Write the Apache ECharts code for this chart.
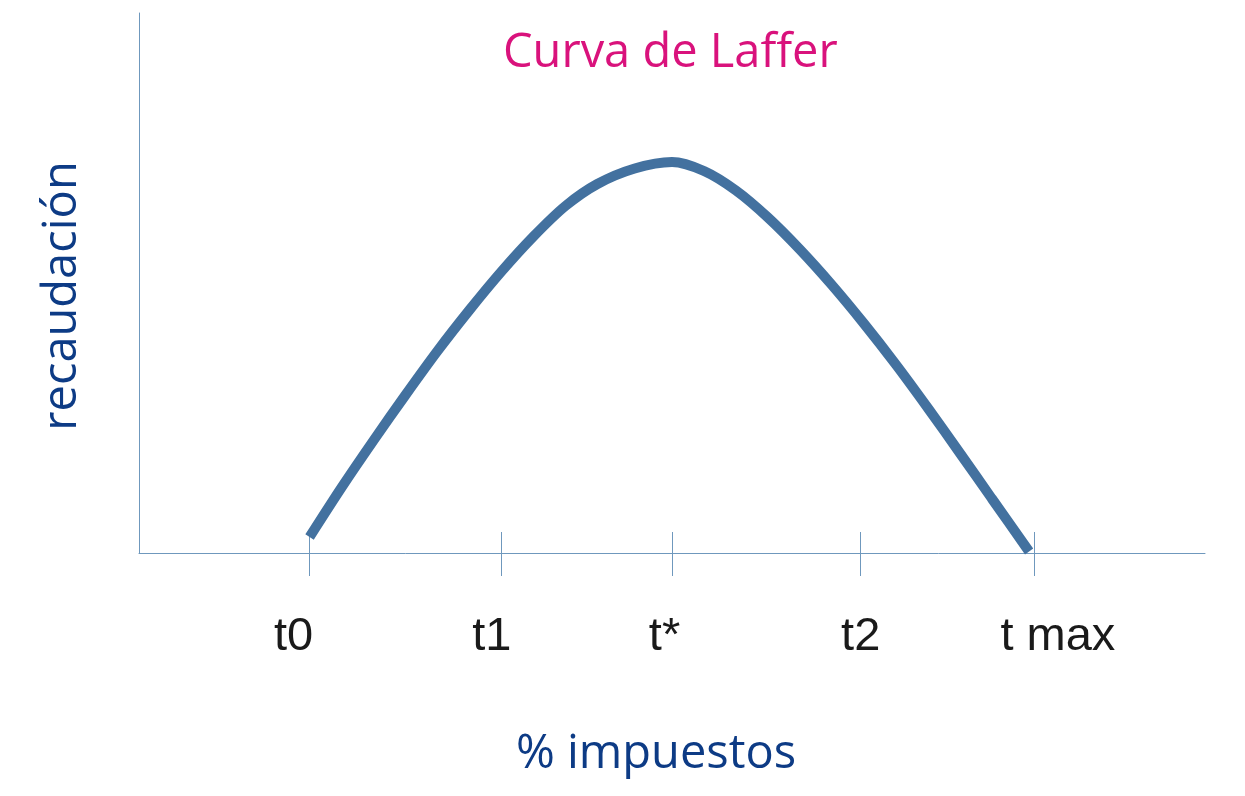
<!DOCTYPE html>
<html>
<head>
<meta charset="utf-8">
<script src="https://cdn.jsdelivr.net/npm/echarts@6/dist/echarts.min.js"></script>
<style>
html,body{margin:0;padding:0;background:#fff;}
#chart{width:1245px;height:796px;}
</style>
</head>
<body>
<div id="chart"></div>
<script>
// Curve: tax rate (% of axis span) vs revenue
const taxRate = [16, 19, 22, 25, 28, 31, 34, 37, 40, 43, 46.5, 50, 53, 56, 59, 62, 65, 68, 71, 74, 77, 80, 83.5];
const revenue = [16, 65.5, 112.5, 158, 202, 243, 281.5, 316.5, 347, 369, 384.5, 391, 382, 362.5, 335.5, 303.5, 268, 229.5, 188.5, 145, 100, 54.5, 1.5];
// Tick positions and their labels
const tickValues = [16, 34, 50, 67.7, 84];
const labelValues = [14.5, 33.1, 49.3, 67.7, 86.2];
const tickLabels = ['t0', 't1', 't*', 't2', 't max'];

const chart = echarts.init(document.getElementById('chart'));
const axisColor = '#6f98bd';
const baseX = {
  type: 'value', min: 0, max: 100, position: 'bottom',
  splitLine: {show: false}
};
chart.setOption({
  backgroundColor: '#ffffff',
  animation: false,
  title: {
    text: 'Curva de Laffer',
    left: 498, top: 25,
    textStyle: {color: '#d9127c', fontFamily: 'Open Sans', fontWeight: 'normal', fontSize: 47}
  },
  grid: {left: 139, right: 40, top: 13, bottom: 243},
  xAxis: [
    Object.assign({}, baseX, {
      axisLine: {show: true, lineStyle: {color: axisColor, width: 1}},
      axisTick: {show: true, inside: false, length: 23, customValues: tickValues, lineStyle: {color: axisColor, width: 1}},
      axisLabel: {
        show: true, margin: 61, customValues: labelValues,
        color: '#1a1a1a', fontFamily: 'Liberation Sans', fontSize: 47,
        formatter: v => { const i = labelValues.findIndex(x => Math.abs(x - v) < 1e-6); return i >= 0 ? tickLabels[i] : ''; }
      },
      name: '% impuestos', nameLocation: 'middle', nameGap: 178,
      nameTextStyle: {color: '#0d3b85', fontFamily: 'Open Sans', fontSize: 47, padding: [0, 32, 0, 0]}
    }),
    Object.assign({}, baseX, {
      axisLine: {show: false},
      axisTick: {show: true, inside: true, length: 21, customValues: tickValues, lineStyle: {color: axisColor, width: 1}},
      axisLabel: {show: false}
    })
  ],
  yAxis: {
    type: 'value', min: 0, max: 540,
    axisLine: {show: true, lineStyle: {color: axisColor, width: 1}},
    axisTick: {show: false}, axisLabel: {show: false}, splitLine: {show: false},
    name: 'recaudación', nameLocation: 'middle', nameRotate: 90, nameGap: 53,
    nameTextStyle: {color: '#0d3b85', fontFamily: 'Open Sans', fontSize: 47, padding: [0, 26, 0, 0]}
  },
  series: [{
    type: 'line', xAxisIndex: 0,
    data: taxRate.map((x, i) => [x, revenue[i]]),
    smooth: 0.3, showSymbol: false,
    lineStyle: {color: '#43719f', width: 10, cap: 'butt'}
  }]
});
</script>
</body>
</html>
